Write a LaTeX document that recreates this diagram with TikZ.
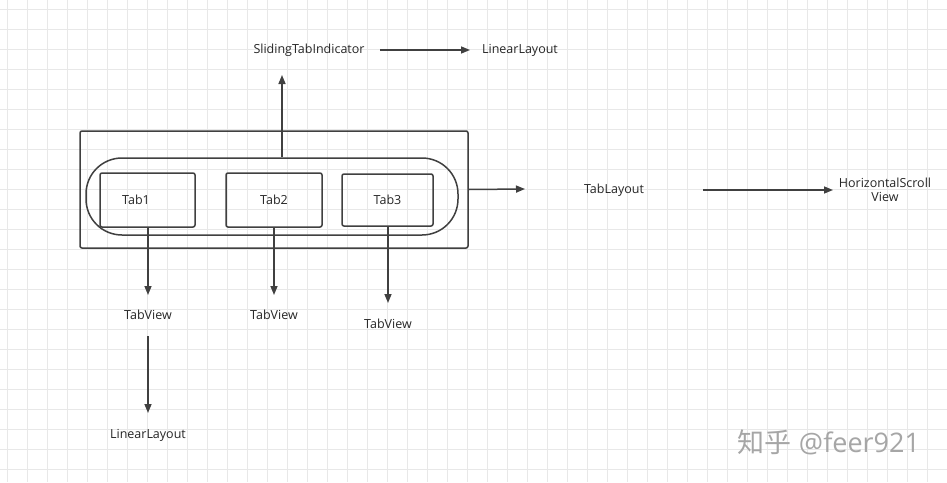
\documentclass[tikz,border=0pt]{standalone}
\usepackage{fontspec}
\setmainfont{Open Sans}
\newfontfamily\cjk{Noto Sans CJK SC}
\usetikzlibrary{arrows.meta}
\begin{document}
\begin{tikzpicture}[x=1pt,y=-1pt,
  box/.style={draw=black!75,line width=1.5pt,rounded corners=2pt},
  lbl/.style={font=\fontsize{12.5}{15}\selectfont,text=black!85,inner sep=1pt},
  arr/.style={draw=black!75,line width=1.5pt,-{Triangle[length=9pt,width=7pt]}}]
\useasboundingbox (0,0) rectangle (947,482);
\fill[white] (0,0) rectangle (947,482);
\foreach \i in {0,20,...,940} \draw[black!9,line width=0.7pt] (\i+7,0) -- (\i+7,482);
\foreach \i in {0,20,...,480} \draw[black!9,line width=0.7pt] (0,\i+9) -- (947,\i+9);
\node[box,minimum width=388pt,minimum height=117pt] (outer) at (274,189.5) {};
\node[draw=black!75,line width=1.5pt,rounded corners=36pt,minimum width=372pt,minimum height=77pt] (inner) at (272,196.5) {};
\node[box,minimum width=95pt,minimum height=54pt] (t1) at (147.5,200) {};
\node[lbl] (t1l) at (136,200) {Tab1};
\node[box,lbl,minimum width=96pt,minimum height=54pt] (t2) at (274,200) {Tab2};
\node[box,lbl,minimum width=91pt,minimum height=52pt] (t3) at (387.5,200) {Tab3};
\node[lbl] (sti) at (309,50) {SlidingTabIndicator};
\node[lbl] (ll1) at (520,50) {LinearLayout};
\node[lbl] (tl) at (614,190) {TabLayout};
\node[lbl,align=center,font=\fontsize{12.5}{14}\selectfont] (hsv) at (885,190) {HorizontalScroll\\View};
\node[lbl] (tv1) at (148,315) {TabView};
\node[lbl] (tv2) at (274,315) {TabView};
\node[lbl] (tv3) at (388,324) {TabView};
\node[lbl] (ll2) at (148,435) {LinearLayout};
\draw[arr] (inner.north -| 282,0) -- (282,75);
\draw[arr] (380,50) -- (470,50);
\draw[arr] (outer.east) -- (525,189);
\draw[arr] (703,190) -- (833,190);
\draw[arr] (t1.south -| 148,0) -- (148,295);
\draw[arr] (148,336) -- (148,413);
\draw[arr] (t2.south) -- (274,295);
\draw[arr] (t3.south -| 388,0) -- (388,303);
\node[text=black!35,font=\fontsize{27}{30}\selectfont] (wm) at (829,442) {{\cjk 知乎} @feer921};
\end{tikzpicture}
\end{document}
